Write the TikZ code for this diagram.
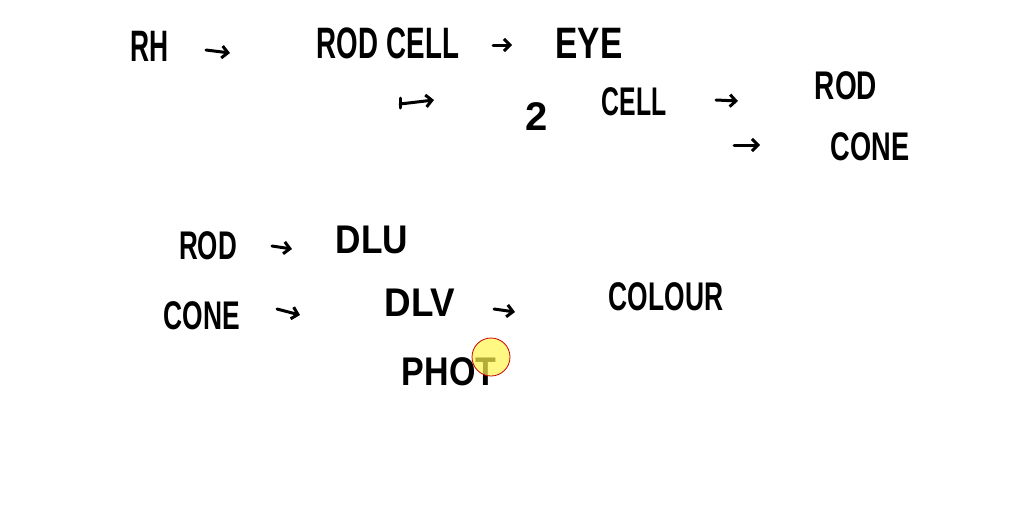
\documentclass[tikz,border=0pt]{standalone}
\usepackage{fontspec}
\setmainfont{Liberation Sans}
\usetikzlibrary{arrows.meta}
\begin{document}
\begin{tikzpicture}[x=1pt,y=-1pt,
  txt/.style={inner sep=0pt, font=\fontsize{40}{44}\selectfont\bfseries},
  big/.style={inner sep=0pt, font=\fontsize{44}{48}\selectfont\bfseries},
  arr/.style={line width=3pt, line cap=round, -{Straight Barb[length=6pt,width=12pt]}}]
\useasboundingbox (0,0) rectangle (1024,512);
\fill[white] (0,0) rectangle (1024,512);
% row 1
\node[big, xscale=0.6] (rh) at (150,46) {RH};
\node[big, xscale=0.63] (rodcell) at (388,43) {ROD\hspace{0.3em}CELL};
\node[big, xscale=0.76] (eye) at (589,43) {EYE};
\coordinate (a1s) at (206,50); \coordinate (a1e) at (230,53);
\draw[arr] (a1s) -- (a1e);
\coordinate (a2s) at (493,45); \coordinate (a2e) at (512,45);
\draw[arr] (a2s) -- (a2e);
% row 2
\node[txt] (two) at (537,117) {2};
\node[txt, xscale=0.62] (cell) at (634,102) {CELL};
\node[txt, xscale=0.7] (rod1) at (846,86) {ROD};
\node[txt, xscale=0.68] (cone1) at (870,147) {CONE};
\coordinate (a3s) at (400,104); \coordinate (a3e) at (434,100);
\draw[arr] (a3s) -- (a3e);
\draw[line width=3pt,line cap=round] (400,98) -- (400,108);
\coordinate (a4s) at (716,100); \coordinate (a4e) at (738,101);
\draw[arr] (a4s) -- (a4e);
\coordinate (a5s) at (734,145); \coordinate (a5e) at (760,145);
\draw[arr] (a5s) -- (a5e);
% lower block
\node[txt, xscale=0.65] (rod2) at (208,246) {ROD};
\node[txt, xscale=0.88] (dlu) at (372,240) {DLU};
\coordinate (a6s) at (272,246); \coordinate (a6e) at (292,249);
\draw[arr] (a6s) -- (a6e);
\node[txt, xscale=0.66] (cone2) at (202,316) {CONE};
\node[txt, xscale=0.92] (dlv) at (420,303) {DLV};
\node[txt, xscale=0.66] (colour) at (666,297) {COLOUR};
\coordinate (a7s) at (277,309); \coordinate (a7e) at (300,315);
\draw[arr] (a7s) -- (a7e);
\coordinate (a8s) at (494,309); \coordinate (a8e) at (515,312);
\draw[arr] (a8s) -- (a8e);
\node[txt, xscale=0.85] (phot) at (449,372) {PHOT};
% cursor highlight
\fill[yellow!70!white, opacity=0.7] (491,357) circle (19);
\draw[red!80!black, line width=0.8pt] (491,357) circle (19);
\end{tikzpicture}
\end{document}
